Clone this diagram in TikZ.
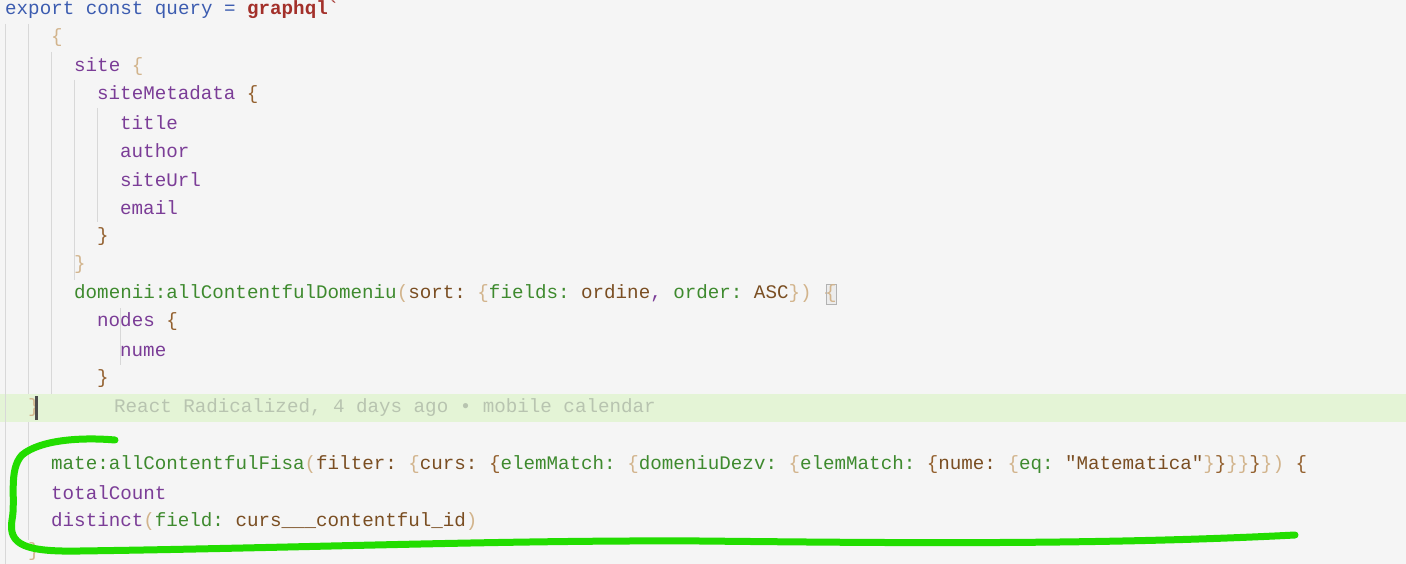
\documentclass[tikz,border=0pt]{standalone}
\usepackage{fontspec}
\setmonofont{Liberation Mono}
\definecolor{bg}{HTML}{F5F5F5}
\definecolor{kw}{HTML}{3C5CB0}
\definecolor{gq}{HTML}{A3302A}
\definecolor{fld}{HTML}{7B3D97}
\definecolor{brl}{HTML}{D2B48C}
\definecolor{brd}{HTML}{93602E}
\definecolor{gfn}{HTML}{3E8A2E}
\definecolor{arg}{HTML}{7A4E22}
\definecolor{guide}{HTML}{D8D8D8}
\definecolor{hl}{HTML}{E4F4D6}
\definecolor{blame}{HTML}{B8C4B0}
\definecolor{pen}{HTML}{22DD00}
\newcommand\cK[1]{\textcolor{kw}{#1}}
\newcommand\cF[1]{\textcolor{fld}{#1}}
\newcommand\cL[1]{\textcolor{brl}{#1}}
\newcommand\cD[1]{\textcolor{brd}{#1}}
\newcommand\cG[1]{\textcolor{gfn}{#1}}
\newcommand\cA[1]{\textcolor{arg}{#1}}
\newcommand\LB{\{}
\newcommand\RB{\}}
\begin{document}
\begin{tikzpicture}[x=1pt,y=-1pt,
  code/.style={anchor=west,inner sep=0pt,font=\ttfamily\fontsize{19.2}{22}\selectfont,text=fld},
  guideline/.style={draw=guide,line width=1pt}]
\fill[bg] (0,0) rectangle (1406,564);
\useasboundingbox (0,0) rectangle (1406,564);
\fill[hl] (0,394) rectangle (1406,422);
% indent guides
\foreach \x/\a/\b in {5/24/564,28/24/394,51/52/394,74/80/280,97/108/222,120/308/365,28/422/540}
  \draw[guideline] (\x,\a) -- (\x,\b);
\node[code] (l1) at (5,10) {\cK{export const query =} \textcolor{gq}{\bfseries graphql}\textcolor{gq}{\symbol{96}}};
\node[code] (l2) at (51,38) {\cL{\LB}};
\node[code] (l3) at (74,67) {\cF{site} \cL{\LB}};
\node[code] (l4) at (97,95) {\cF{siteMetadata} \cD{\LB}};
\node[code] (l5) at (120,123) {title};
\node[code] (l6) at (120,151) {author};
\node[code] (l7) at (120,180) {siteUrl};
\node[code] (l8) at (120,208) {email};
\node[code] (l9) at (97,237) {\cD{\RB}};
\node[code] (l10) at (74,265) {\cL{\RB}};
\node[code] (l11) at (74,294) {\cG{domenii:allContentfulDomeniu}\cL{(}\cA{sort:} \cL{\LB}\cG{fields:} \cA{ordine}, \cG{order:} \cA{ASC}\cL{\RB}\cL{)} \cL{\LB}};
\draw[gray!60,fill=gray!15] (826,284) rectangle (836,304);
\node[code] at (831,294) [anchor=center] {\cL{\LB}};
\node[code] (l12) at (97,322) {\cF{nodes} \cD{\LB}};
\node[code] (l13) at (120,351) {nume};
\node[code] (l14) at (97,379) {\cD{\RB}};
\node[code] (l15) at (28,408) {\cL{\RB}};
\fill[black!70] (35,396) rectangle (38,420);
\node[code,text=blame] (bl) at (114,408) {React Radicalized, 4 days ago • mobile calendar};
\node[code] (l17) at (51,465) {\cG{mate:allContentfulFisa}\cL{(}\cA{filter:} \cL{\LB}\cA{curs:} \cD{\LB}\cG{elemMatch:} \cL{\LB}\cG{domeniuDezv:} \cL{\LB}\cG{elemMatch:} \cD{\LB}\cA{nume:} \cL{\LB}\cG{eq:} \cA{"Matematica"}\cL{\RB}\cD{\RB}\cL{\RB\RB}\cD{\RB}\cL{\RB}\cL{)} \cD{\LB}};
\node[code] (l18) at (51,493) {totalCount};
\node[code] (l19) at (51,522) {\cF{distinct}\cL{(}\cG{field:} \cA{curs\_\_\_contentful\_id}\cL{)}};
\node[code] (l20) at (28,552) {\cL{\RB}};
% green marker stroke
\draw[pen,line width=7pt,line cap=round,line join=round]
  (115,440) .. controls (80,437) and (40,440) .. (22,455)
  .. controls (8,470) and (16,500) .. (12,520)
  .. controls (8,545) and (25,552) .. (80,551)
  .. controls (300,548) and (500,540) .. (700,541)
  .. controls (900,543) and (1100,545) .. (1295,535);
\end{tikzpicture}
\end{document}
